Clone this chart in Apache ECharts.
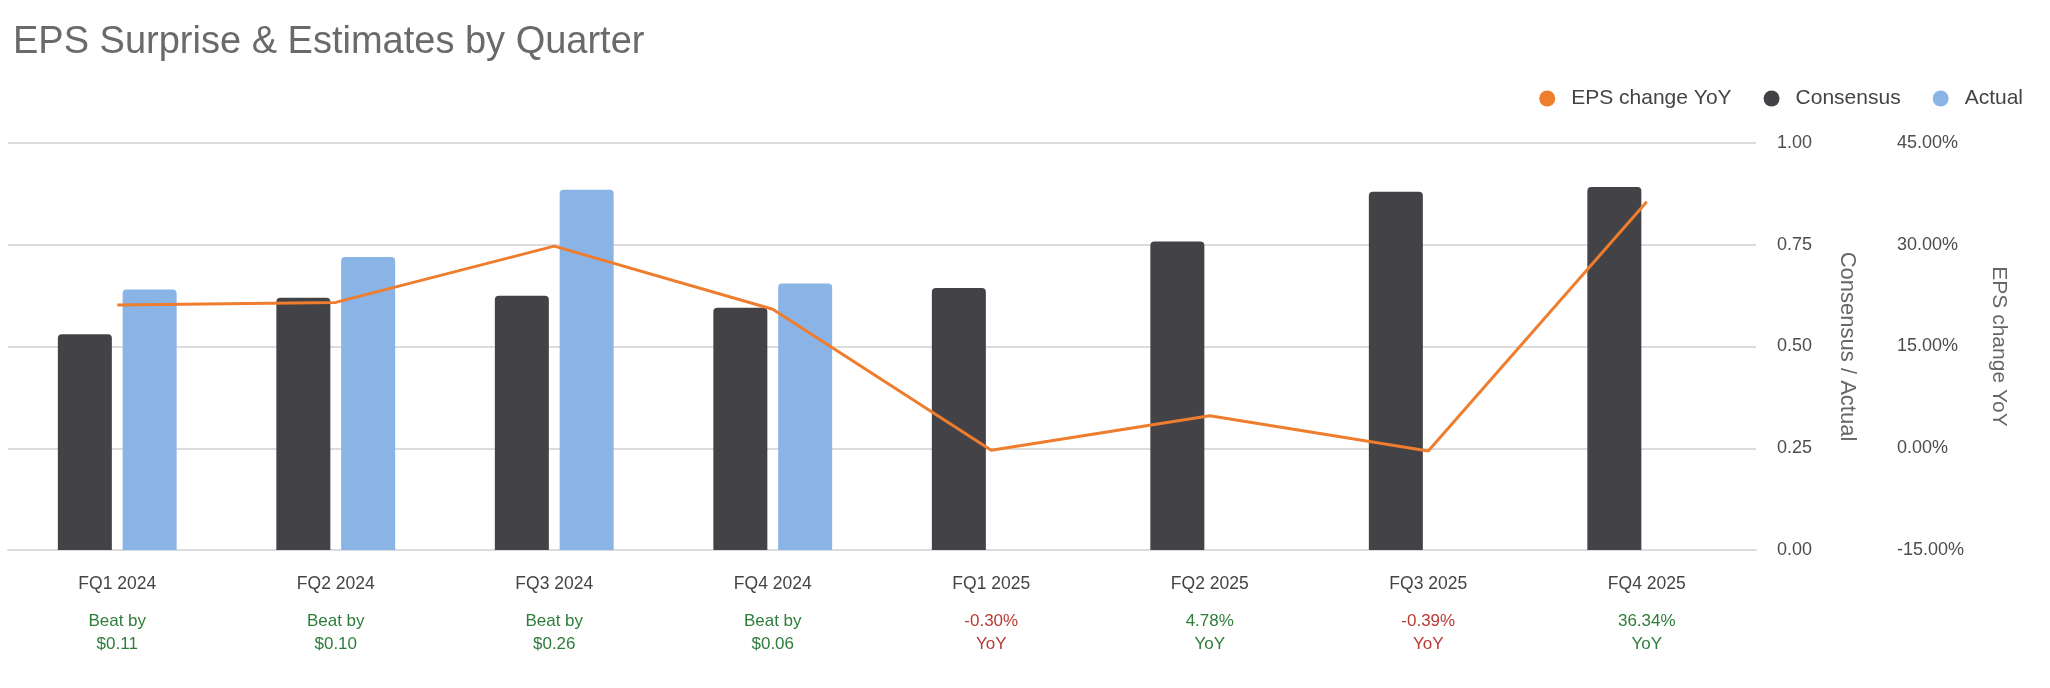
<!DOCTYPE html>
<html>
<head>
<meta charset="utf-8">
<script src="https://cdn.jsdelivr.net/npm/echarts@6/dist/echarts.min.js"></script>
<style>
  html, body { margin: 0; padding: 0; background: #fff; }
  #chart { width: 2050px; height: 688px; }
</style>
</head>
<body>
<div id="chart"></div>
<script>
var quarters = ['FQ1 2024', 'FQ2 2024', 'FQ3 2024', 'FQ4 2024', 'FQ1 2025', 'FQ2 2025', 'FQ3 2025', 'FQ4 2025'];
var consensus = [0.53, 0.62, 0.625, 0.595, 0.644, 0.758, 0.88, 0.892];
var actual = [0.64, 0.72, 0.885, 0.655, null, null, null, null];
var epsChangeYoY = [21.1, 21.5, 29.8, 20.5, -0.30, 4.78, -0.39, 36.34];

var font = 'Liberation Sans';

var myChart = echarts.init(document.getElementById('chart'));

// label under each quarter: beat amount if reported, otherwise YoY change
function quarterLabel(value, idx) {
    var lines = '{q|' + value + '}\n{s| }\n';
    if (actual[idx] != null) {
        var beat = actual[idx] - consensus[idx];
        var st = beat >= 0 ? 'g' : 'r';
        lines += '{' + st + '|' + (beat >= 0 ? 'Beat by' : 'Miss by') + '}\n{' + st + '|$' + Math.abs(beat).toFixed(2) + '}';
    } else {
        var yoy = epsChangeYoY[idx];
        var st2 = yoy >= 0 ? 'g' : 'r';
        lines += '{' + st2 + '|' + yoy.toFixed(2) + '%}\n{' + st2 + '|YoY}';
    }
    return lines;
}

option = {
    textStyle: { fontFamily: font },
    title: {
        text: 'EPS Surprise & Estimates by Quarter',
        left: 8,
        top: 19,
        textStyle: { fontFamily: font, fontSize: 38, fontWeight: 'normal', color: '#6a6a6a' }
    },
    legend: {
        data: ['EPS change YoY', 'Consensus', 'Actual'],
        right: 22,
        top: 83,
        icon: 'circle',
        itemWidth: 16,
        itemHeight: 16,
        itemGap: 32,
        textStyle: { fontFamily: font, fontSize: 21, color: '#444', padding: [0, 0, 0, 11] }
    },
    grid: {
        left: 8,
        right: 294,
        top: 143,
        bottom: 138,
        containLabel: false
    },
    xAxis: [
        {
            type: 'category',
            data: quarters,
            axisTick: { show: false },
            axisLine: { show: true, lineStyle: { color: '#dcdcdc', width: 2 } },
            axisLabel: {
                margin: 23,
                interval: 0,
                formatter: quarterLabel,
                rich: {
                    q: { fontFamily: font, fontSize: 17.5, color: '#444', lineHeight: 23 },
                    s: { fontSize: 10, lineHeight: 14 },
                    g: { fontFamily: font, fontSize: 17, color: '#2e7d3a', lineHeight: 23 },
                    r: { fontFamily: font, fontSize: 17, color: '#b83a34', lineHeight: 23 }
                }
            }
        }
    ],
    yAxis: [
        {
            type: 'value',
            position: 'right',
            min: 0,
            max: 1,
            interval: 0.25,
            name: 'Consensus / Actual',
            nameLocation: 'middle',
            nameRotate: -90,
            nameGap: 80,
            nameTextStyle: { fontFamily: font, fontSize: 22, color: '#666' },
            axisLine: { show: false },
            axisTick: { show: false },
            axisLabel: {
                margin: 21,
                fontFamily: font,
                fontSize: 18,
                color: '#4d4d4d',
                formatter: function (v) { return v.toFixed(2); }
            },
            splitLine: { lineStyle: { color: '#dcdcdc', width: 2 } }
        },
        {
            type: 'value',
            position: 'right',
            offset: 120,
            min: -15,
            max: 45,
            interval: 15,
            name: 'EPS change YoY',
            nameLocation: 'middle',
            nameRotate: -90,
            nameGap: 112,
            nameTextStyle: { fontFamily: font, fontSize: 21, color: '#666' },
            axisLine: { show: false },
            axisTick: { show: false },
            axisLabel: {
                margin: 21,
                fontFamily: font,
                fontSize: 18,
                color: '#4d4d4d',
                formatter: function (v) { return v.toFixed(2) + '%'; }
            },
            splitLine: { show: false }
        }
    ],
    series: [
        {
            name: 'Consensus',
            type: 'bar',
            data: consensus,
            barWidth: 54,
            barGap: '20%',
            itemStyle: { color: '#434246', borderRadius: [4, 4, 0, 0] }
        },
        {
            name: 'Actual',
            type: 'bar',
            data: actual,
            barWidth: 54,
            itemStyle: { color: '#8ab4e6', borderRadius: [4, 4, 0, 0] }
        },
        {
            name: 'EPS change YoY',
            type: 'line',
            yAxisIndex: 1,
            data: epsChangeYoY,
            symbol: 'none',
            lineStyle: { color: '#ee7d2e', width: 3 },
            itemStyle: { color: '#ee7d2e' },
            z: 5
        }
    ]
};

myChart.setOption(option);
</script>
</body>
</html>
